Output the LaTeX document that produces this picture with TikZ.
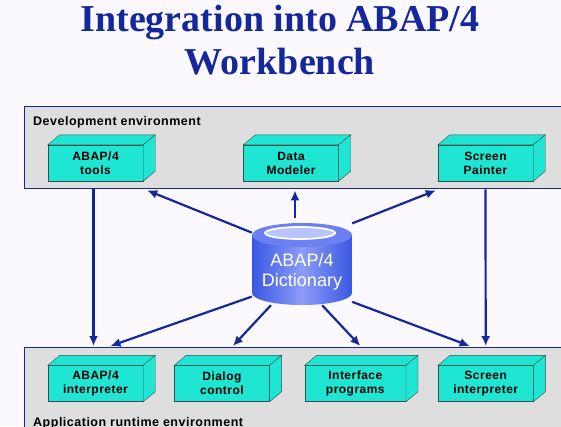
\documentclass[tikz,border=0pt]{standalone}
\usepackage{fontspec}
\setmainfont{Liberation Serif}
\setsansfont{Liberation Sans}
\newfontfamily\boxfont[LetterSpace=4]{Liberation Sans}
\usetikzlibrary{arrows.meta,calc,positioning}
\definecolor{sapblue}{HTML}{14289C}
\definecolor{pagebg}{HTML}{FBF8FE}
\definecolor{panelgray}{HTML}{DEDEDE}
\definecolor{boxteal}{HTML}{1EE6D2}
\definecolor{boxedge}{HTML}{2F4F4F}
\definecolor{cylblue}{HTML}{3A58E2}
\definecolor{cyllight}{HTML}{8C9CF8}
\definecolor{cyltop}{HTML}{6B80F2}
\definecolor{ringfill}{HTML}{B8C4FC}
\tikzset{%
	panel/.style    = {draw=sapblue, line width=1.4pt, fill=panelgray, anchor=north west, inner sep=0pt},
	tool/.style     = {draw=boxedge, fill=boxteal, minimum width=95pt, minimum height=36pt, inner sep=0pt, align=center, font=\boxfont\bfseries\fontsize{12}{14}\selectfont},
	face/.style     = {draw=boxedge, fill=boxteal},
	flow/.style     = {draw=sapblue, line width=2.2pt, -{Latex[length=10pt,width=9pt]}},
	title/.style    = {text=sapblue, anchor=base, font=\bfseries\fontsize{38}{40}\selectfont},
	envlabel/.style = {anchor=base west, inner sep=0pt, font=\boxfont\bfseries\fontsize{12.5}{14}\selectfont},
	dictbox/.style  = {minimum width=100pt, minimum height=82pt, inner sep=0pt},
	dicttext/.style = {text=white, align=center, font=\sffamily\fontsize{18}{20}\selectfont},
}

\begin{document}
\begin{tikzpicture}[x=1pt,y=-1pt]
		\useasboundingbox (0,0) rectangle (561,426);
		\clip (0,0) rectangle (561,426);
		\fill[pagebg] (0,0) rectangle (561,426);
		
		% title
		\node [title] (title) at (280,31) {Integration into ABAP/4};
		\node [title] (title2) at (280,74) {Workbench};
		
		% the two environments
		\node [panel, minimum width=560pt, minimum height=82pt] (devpanel) at (24,106) {};
		\node [panel, minimum width=560pt, minimum height=100pt] (runpanel) at (24,347) {};
		\node [envlabel] (devlabel) at (33,125) {Development environment};
		\node [envlabel] (runlabel) at (33,426) {Application runtime environment};
		
		% tools
		\node [tool] (tools) at (95.5,163) {ABAP/4\\tools};
		\node [tool] (modeler) at (291,163) {Data\\Modeler};
		\node [tool] (painter) at (485.5,163) {Screen\\Painter};
		\node [tool] (interp) at (95.5,383.5) {ABAP/4\\interpreter};
		\node [tool] (dialog) [right=31pt of interp] {Dialog\\control};
		\node [tool, minimum width=101pt] (interface) [right=35pt of dialog] {Interface\\programs};
		\node [tool] (screeninterp) [right=32pt of interface] {Screen\\interpreter};
		\foreach \b in {tools,modeler,painter,interp,dialog,interface,screeninterp} {
			\draw[face] (\b.north west) -- ([shift={(12pt,10pt)}]\b.north west) -- ([shift={(12pt,10pt)}]\b.north east) -- (\b.north east) -- cycle;
			\draw[face] (\b.north east) -- ([shift={(12pt,10pt)}]\b.north east) -- ([shift={(12pt,10pt)}]\b.south east) -- (\b.south east) -- cycle;
		}
		
		% dictionary cylinder
		\node [dictbox] (dict) at (302,264) {};
		\shade[left color=cylblue, right color=cylblue, middle color=cyllight] (252,235) -- (252,293) arc[start angle=180, end angle=0, x radius=50, y radius=12] -- (352,235) -- cycle;
		\fill[cyltop] (302,235) ellipse [x radius=50, y radius=12];
		\draw[white, line width=1.8pt, fill=ringfill] (300,233) ellipse [x radius=35, y radius=6];
		\node [dicttext] (dictlabel) at ([yshift=-8pt]dict.center) {ABAP/4\\Dictionary};
		
		% connections
		\draw[flow] ([xshift=-2pt]tools.south |- devpanel.south) -- ($([xshift=-2pt]interp.north |- runpanel.north)+(0,-1)$);
		\draw[flow] (painter.south |- devpanel.south) -- ($(screeninterp.north |- runpanel.north)+(0,-1)$);
		\draw[flow] (dict.148) -- ($(tools.south east |- devpanel.south)+(4,1)$);
		\draw[flow] ([xshift=-7pt,yshift=5pt]dict.north) -- ($([xshift=-7pt]dict.north |- devpanel.south)+(0,1)$);
		\draw[flow] (dict.39) -- ($(painter.south west |- devpanel.south)+(-2,1)$);
		\draw[flow] (dict.213) -- ($(interp.north |- runpanel.north)+(15,-1)$);
		\draw[flow] (dict.233) -- ($(dialog.north |- runpanel.north)+(11,-1)$);
		\draw[flow] (dict.296) -- ($(interface.north |- runpanel.north)+(5,-1)$);
		\draw[flow] (dict.323) -- ($(screeninterp.north |- runpanel.north)+(-16,-1)$);
	\end{tikzpicture}
\end{document}
